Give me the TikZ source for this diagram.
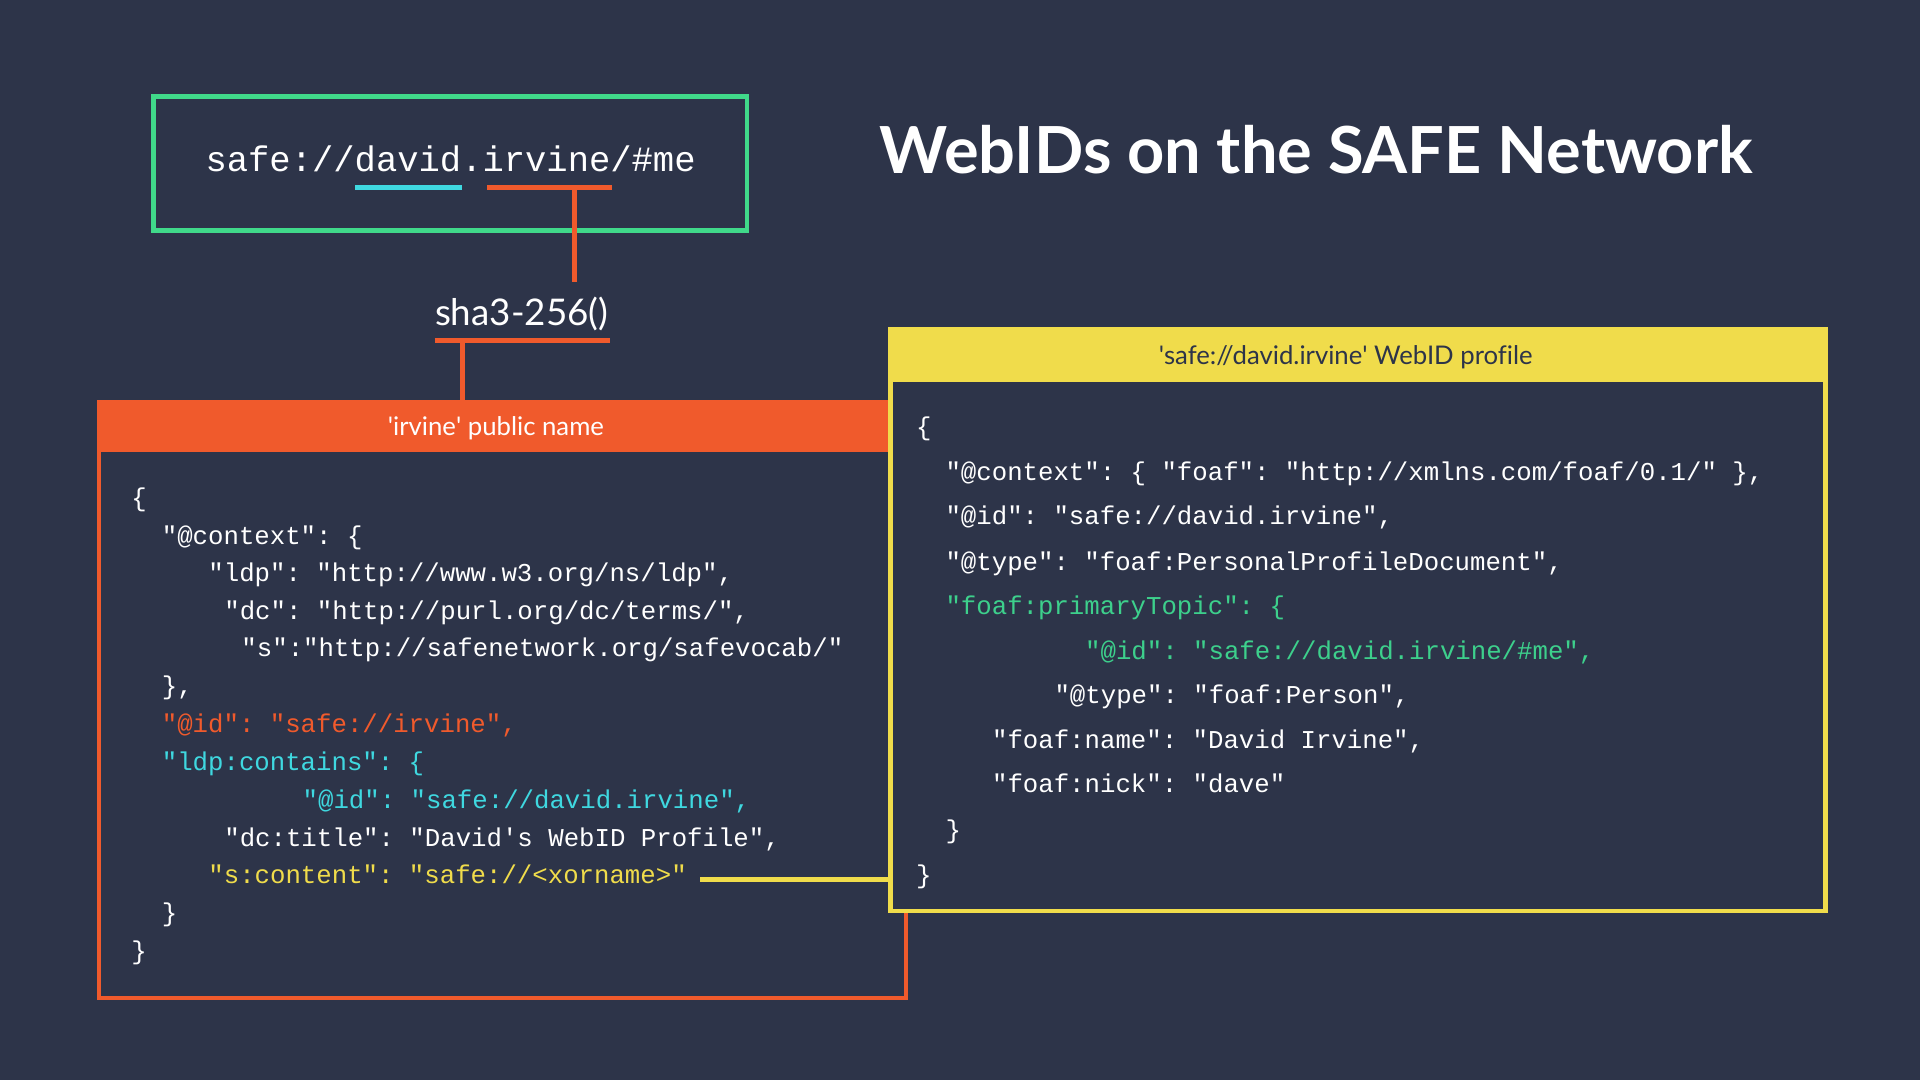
\documentclass[tikz,border=0pt]{standalone}
\usepackage{fontspec}
\setmainfont[Ligatures=NoCommon]{Lato}
\setmonofont{Liberation Mono}
\definecolor{bg}{HTML}{2D3449}
\definecolor{og}{HTML}{F05A2C}
\definecolor{yl}{HTML}{F0DC4B}
\definecolor{cy}{HTML}{3FD8E0}
\definecolor{gr}{HTML}{40D98A}
\definecolor{gt}{HTML}{3DD08C}
\tikzset{
 code/.style={anchor=mid west,inner sep=0pt,yshift=-5pt,text=white,font=\ttfamily\fontsize{21}{25}\selectfont},
 hdr/.style={inner sep=0pt,font=\fontsize{21}{25}\selectfont},
 bar/.style={line width=4pt}
}
\newcommand{\sq}{\textquotesingle}
\begin{document}
\begin{tikzpicture}[x=1pt,y=-1pt]
\fill[bg] (0,0) rectangle (1568,882);
\useasboundingbox (0,0) rectangle (1568,882);
% title
\node[text=white,font=\bfseries\fontsize{53}{62}\selectfont,inner sep=0pt] (title) at (1075,122) {WebIDs on the SAFE Network};
% url box
\draw[gr,line width=4pt] (125,79) rectangle (610,188);
\node[inner sep=0pt,text=white,font=\ttfamily\fontsize{29}{34}\selectfont] (url) at (368,130) {safe://david.irvine/\#me};
\coordinate (u1a) at (290,153); \coordinate (u1b) at (377,153);
\coordinate (u2a) at (398,153); \coordinate (u2b) at (500,153);
\coordinate (u2m) at (469,153);
\draw[bar,cy] (u1a) -- (u1b);
\draw[bar,og] (u2a) -- (u2b);
\draw[bar,og] (u2m) -- (469,230);
% sha
\node[inner sep=0pt,text=white,font=\fontsize{30}{36}\selectfont] (sha) at (426,256) {sha3-256()};
\draw[bar,og] (355,278) -- (498,278);
\draw[bar,og] (378,278) -- (378,329);
% orange box
\draw[og,line width=3pt] (81,328) rectangle (740,815);
\fill[og] (81,328) rectangle (727,369);
\node[hdr,text=white] (oh) at (405,350) {\sq irvine\sq\ public name};
% yellow connector
\draw[bar,yl] (572,718) -- (727,718);
% yellow box
\fill[bg] (727,269) rectangle (1491,744);
\draw[yl,line width=4pt] (727,269) rectangle (1491,744);
\fill[yl] (727,269) rectangle (1491,312);
\node[hdr,text=bg] (yh) at (1099,292) {\sq safe://david.irvine\sq\ WebID profile};
% left code
\node[code] at (107,406) {\{};
\node[code] at (132,437) {"@context": \{};
\node[code] at (170,467) {"ldp": "http://www.w3.org/ns/ldp",};
\node[code] at (183,498) {"dc": "http://purl.org/dc/terms/",};
\node[code] at (197,529) {"s":"http://safenetwork.org/safevocab/"};
\node[code] at (132,560) {\},};
\node[code,text=og] at (132,591) {"@id": "safe://irvine",};
\node[code,text=cy] at (132,622) {"ldp:contains": \{};
\node[code,text=cy] at (247,653) {"@id": "safe://david.irvine",};
\node[code] at (183,684) {"dc:title": "David's WebID Profile",};
\node[code,text=yl] at (170,714) {"s:content": "safe://<xorname>"};
\node[code] at (132,745) {\}};
\node[code] at (107,776) {\}};
% right code
\node[code] at (748,348) {\{};
\node[code] at (772,385) {"@context": \{ "foaf": "http://xmlns.com/foaf/0.1/" \},};
\node[code] at (772,421) {"@id": "safe://david.irvine",};
\node[code] at (772,458) {"@type": "foaf:PersonalProfileDocument",};
\node[code,text=gt] at (772,494) {"foaf:primaryTopic": \{};
\node[code,text=gt] at (886,531) {"@id": "safe://david.irvine/\#me",};
\node[code] at (861,567) {"@type": "foaf:Person",};
\node[code] at (810,604) {"foaf:name": "David Irvine",};
\node[code] at (810,640) {"foaf:nick": "dave"};
\node[code] at (772,677) {\}};
\node[code] at (748,714) {\}};
\end{tikzpicture}
\end{document}
